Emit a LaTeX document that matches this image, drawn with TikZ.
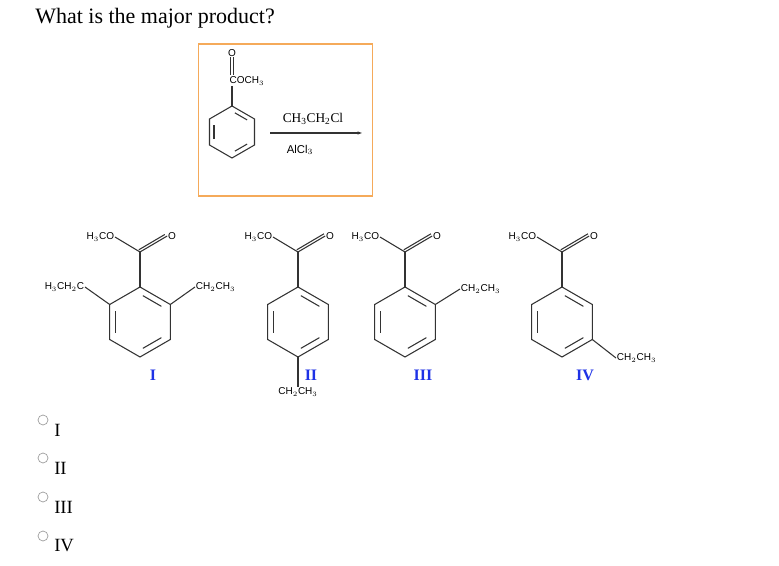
\documentclass[tikz,border=0pt]{standalone}
\usepackage{fontspec}
\setmainfont{Liberation Serif}
\setsansfont{Liberation Sans}
\usetikzlibrary{calc,arrows.meta}
\newcommand{\mkring}[4]{% name cx cy r
  \foreach \i/\a in {1/90,2/30,3/-30,4/-90,5/-150,6/150}{
    \coordinate (#1\i) at ($(#2,#3)+(\a:#4 and -#4)$);}
  \coordinate (#1c) at (#2,#3);
  \draw[bond] (#11)--(#12)--(#13)--(#14)--(#15)--(#16)--cycle;}
\newcommand{\dbl}[3]{\draw[bond,shorten <=2.5pt,shorten >=2.5pt] ($(#1c)!0.8!(#2)$)--($(#1c)!0.8!(#3)$);}
\begin{document}
\begin{tikzpicture}[x=0.75pt,y=-0.75pt,
  bond/.style={line width=0.8pt,black!80},
  lab/.style={font=\sffamily\fontsize{7.5}{8}\selectfont,inner sep=0.5pt},
  roman/.style={font=\bfseries\fontsize{12}{12}\selectfont,text={rgb,255:red,30;green,50;blue,230},inner sep=0pt},
  opt/.style={font=\fontsize{14}{14}\selectfont,inner sep=0pt,anchor=west},
  radio/.style={circle,draw=black!40,line width=0.5pt,minimum size=7.5pt,inner sep=0pt}]
\useasboundingbox (0,0) rectangle (779,566);
\node[anchor=west,font=\fontsize{16.5}{18}\selectfont,inner sep=0] (title) at (35,18) {What is the major product?};
% reaction box
\node[draw={rgb,255:red,245;green,170;blue,90},line width=0.8pt,minimum width=131pt,minimum height=114pt,inner sep=0] (box) at (285.5,120) {};
\mkring{r}{232}{132}{26}
\dbl{r}{r1}{r2}\dbl{r}{r3}{r4}\dbl{r}{r5}{r6}
\node[lab] (coch) at (247,81) {COCH$_3$};
\coordinate (cc) at (232,86);
\draw[bond] (r1)--(cc);
\node[lab] (ox) at (232,53) {O};
\draw[bond] ([xshift=-1.3pt]ox.south)--([xshift=-1.3pt]232,75);
\draw[bond] ([xshift=1.3pt]ox.south)--([xshift=1.3pt]232,75);
\coordinate (a1) at (270,133); \coordinate (a2) at (363,133);
\draw[bond,-{Latex[length=4pt,width=2.5pt]}] (a1)--(a2);
\node[font=\fontsize{10}{10}\selectfont] (reag) at (313,119) {CH\textsubscript{3}CH\textsubscript{2}Cl};
\node[lab,font=\sffamily\fontsize{8.5}{9}\selectfont] (cat) at (300,150) {AlCl$_3$};
% I
\mkring{m}{140}{322}{35}
\dbl{m}{m1}{m2}\dbl{m}{m3}{m4}\dbl{m}{m5}{m6}
\coordinate (mC) at (140,252);
\draw[bond] (m1)--(mC);
\node[lab] (mO) at (172,236) {O};
\node[lab,anchor=east] (mM) at (115,237) {H$_3$CO};
\draw[bond] (mC)--(mM.east);
\draw[bond] (mC)--(mO.west); \draw[bond,shorten >=1pt] ($(mC)+(-1.2,-2.2)$)--($(mO.west)+(-1.2,-2.2)$);
\node[lab,anchor=east] (mL) at (85,287) {H$_3$CH$_2$C};
\node[lab,anchor=west] (mR) at (195,287) {CH$_2$CH$_3$};
\draw[bond] (m6)--(mL.east); \draw[bond] (m2)--(mR.west);
\node[roman] (nI) at (153,375) {I};
% II
\mkring{p}{298}{322}{35}
\dbl{p}{p1}{p2}\dbl{p}{p3}{p4}\dbl{p}{p5}{p6}
\coordinate (pC) at (298,252);
\draw[bond] (p1)--(pC);
\node[lab] (pO) at (330,236) {O};
\node[lab,anchor=east] (pM) at (273,237) {H$_3$CO};
\draw[bond] (pC)--(pM.east);
\draw[bond] (pC)--(pO.west); \draw[bond] ($(pC)+(-1.2,-2.2)$)--($(pO.west)+(-1.2,-2.2)$);
\node[lab,anchor=north] (pE) at (298,387) {CH$_2$CH$_3$};
\draw[bond] (p4)--(pE.north);
\node[roman] (nII) at (311,375) {II};
% III
\mkring{q}{405}{322}{35}
\dbl{q}{q1}{q2}\dbl{q}{q3}{q4}\dbl{q}{q5}{q6}
\coordinate (qC) at (405,252);
\draw[bond] (q1)--(qC);
\node[lab] (qO) at (437,236) {O};
\node[lab,anchor=east] (qM) at (380,237) {H$_3$CO};
\draw[bond] (qC)--(qM.east);
\draw[bond] (qC)--(qO.west); \draw[bond] ($(qC)+(-1.2,-2.2)$)--($(qO.west)+(-1.2,-2.2)$);
\node[lab,anchor=west] (qR) at (460,289) {CH$_2$CH$_3$};
\draw[bond] (q2)--(qR.west);
\node[roman] (nIII) at (423,375) {III};
% IV
\mkring{s}{562}{322}{35}
\dbl{s}{s1}{s2}\dbl{s}{s3}{s4}\dbl{s}{s5}{s6}
\coordinate (sC) at (562,252);
\draw[bond] (s1)--(sC);
\node[lab] (sO) at (594,236) {O};
\node[lab,anchor=east] (sM) at (537,237) {H$_3$CO};
\draw[bond] (sC)--(sM.east);
\draw[bond] (sC)--(sO.west); \draw[bond] ($(sC)+(-1.2,-2.2)$)--($(sO.west)+(-1.2,-2.2)$);
\node[lab,anchor=west] (sR) at (616,358) {CH$_2$CH$_3$};
\draw[bond] (s3)--(sR.west);
\node[roman] (nIV) at (585,375) {IV};
% options
\foreach \y/\t/\n in {420/I/o1,458/II/o2,497/III/o3,536/IV/o4}{
  \node[radio] (\n c) at (43,\y) {};
  \node[opt] (\n) at (54,\y+10) {\t};}
\end{tikzpicture}
\end{document}
